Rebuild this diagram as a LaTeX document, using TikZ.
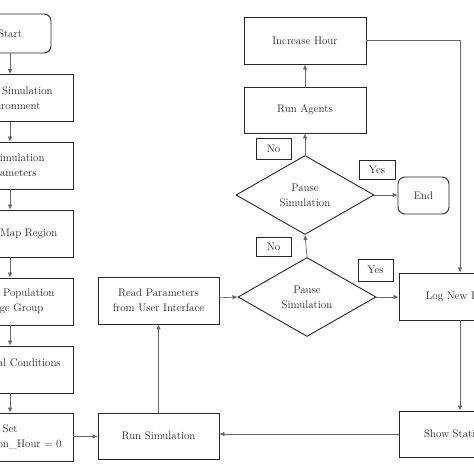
\documentclass[tikz,border=0pt]{standalone}
\usepackage{tikz}
\usetikzlibrary{shapes.geometric}
\usetikzlibrary{arrows.meta}

\begin{document}
\begin{tikzpicture}[x=1pt,y=-1pt,
	font=\fontsize{11}{15}\selectfont,
	box/.style={draw=black!85,line width=0.9pt,text=black!85,align=center,inner sep=2pt},
	roundbox/.style={box,rounded corners=7pt},
	pausebox/.style={box,shape=diamond,aspect=1.75,minimum width=138pt,minimum height=79pt,inner sep=0pt},
	tagbox/.style={draw=black!85,line width=0.8pt,text=black!85,inner sep=0pt},
	link/.style={draw=black!60,line width=0.7pt,-{Latex[length=5pt,width=4.5pt]}}]
\useasboundingbox (0,0) rectangle (474,474);
\clip (0,0) rectangle (474,474);

% left column
\node[roundbox,minimum width=82pt,minimum height=39pt] (start) at (10,33.5) {Start};
\node[box,minimum width=126pt,minimum height=47pt] (env) at (10,98) {Create Simulation\\Environment};
\node[box,minimum width=126pt,minimum height=47pt] (par) at (10,165.5) {Set Simulation\\Parameters};
\node[box,minimum width=126pt,minimum height=47pt] (map) at (10,233.5) {Choose Map Region};
\node[box,minimum width=126pt,minimum height=47pt] (pop) at (10,301.5) {Choose Population\\by Age Group};
\node[box,minimum width=126pt,minimum height=47pt] (init) at (10,369.5) {Set Initial Conditions\\[-2pt]\mbox{}};
\node[box,minimum width=126pt,minimum height=48pt] (hour) at (10,437) {Set\\Simulation\_Hour = 0};

% middle
\node[box,minimum width=121pt,minimum height=47pt] (read) at (158.5,300.5) {Read Parameters\\from User Interface};
\node[box,minimum width=121pt,minimum height=46pt] (runsim) at (158.5,436) {Run Simulation};
\node[box,minimum width=122pt,minimum height=47pt] (inc) at (305,40.5) {Increase Hour};
\node[box,minimum width=122pt,minimum height=46pt] (agents) at (305,110) {Run Agents};
\node[pausebox] (uppause) at (305,195) {Pause\\Simulation};
\node[pausebox] (lowpause) at (307,297) {Pause\\Simulation};

% right column
\node[roundbox,minimum width=51pt,minimum height=37pt] (end) at (423.5,195.5) {End};
\node[box,minimum width=122pt,minimum height=47pt] (log) at (460,296.5) {Log New Data};
\node[box,minimum width=122pt,minimum height=46pt] (stats) at (460,434) {Show Statistics};

% yes / no tags
\node[tagbox,minimum width=35pt,minimum height=21pt] (noup) at (273.5,148.5) {No};
\node[tagbox,minimum width=35pt,minimum height=19pt] (nolow) at (273.5,246.5) {No};
\node[tagbox,minimum width=36pt,minimum height=19pt] (yesup) at (377,170) {Yes};
\node[tagbox,minimum width=35pt,minimum height=22pt] (yeslow) at (375.5,270) {Yes};

% links
\draw[link] (start) -- (env);
\draw[link] (env) -- (par);
\draw[link] (par) -- (map);
\draw[link] (map) -- (pop);
\draw[link] (pop) -- (init);
\draw[link] (init) -- (hour);
\draw[link] (hour) -- (runsim);
\draw[link] (runsim) -- (read);
\draw[link] (read) -- (lowpause.west);
\draw[link] (lowpause.east) -- (log.west |- lowpause.east);
\draw[link] (lowpause.north) -- (uppause.south);
\draw[link] (uppause.north) -- (agents);
\draw[link] (uppause.east) -- (end.west |- uppause.east);
\draw[link] (agents) -- (inc);
\draw[link] (inc.east) -| (log.north);
\draw[link] (log) -- (stats);
\draw[link] (stats.west) -- (runsim.east |- stats.west);

\end{tikzpicture}
\end{document}
